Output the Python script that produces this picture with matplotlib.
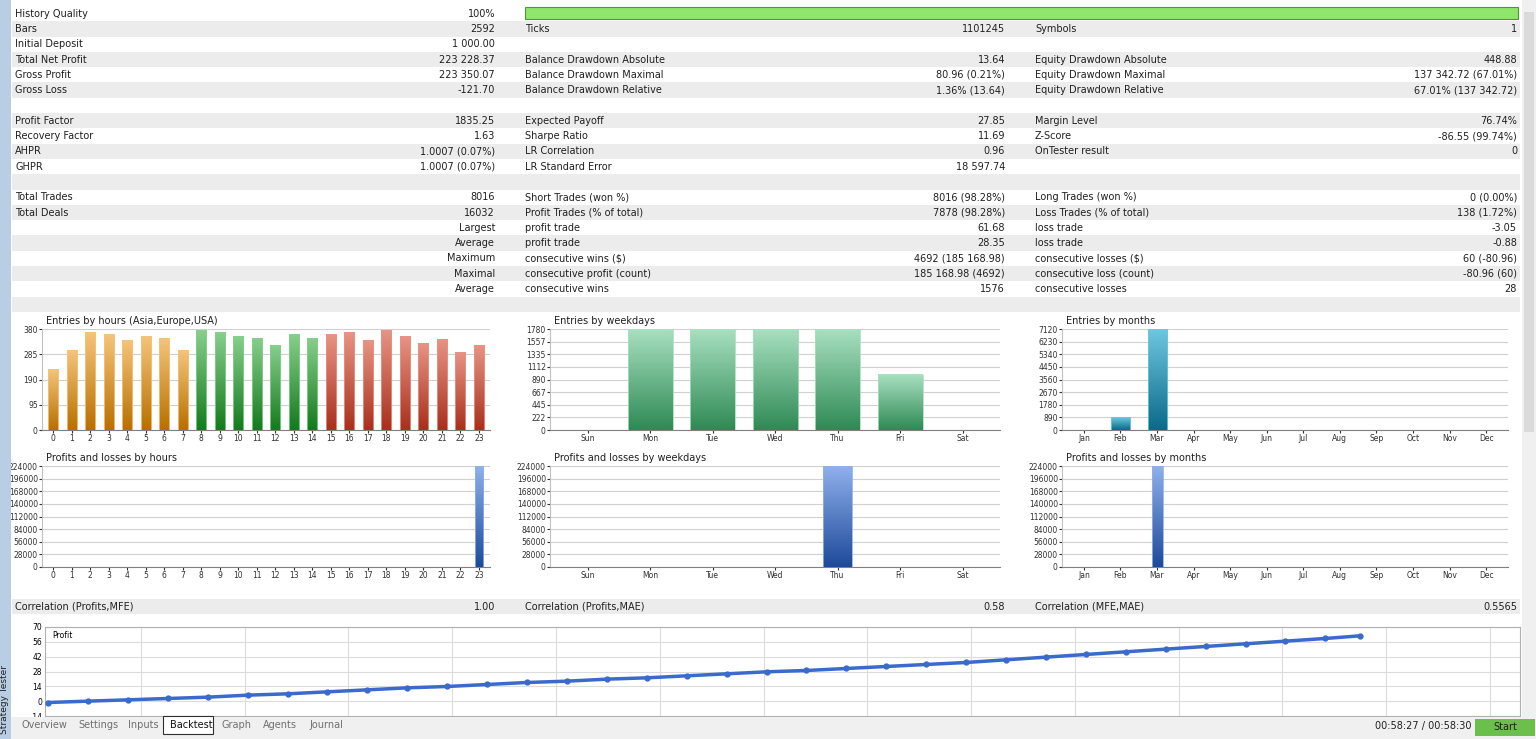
import matplotlib
matplotlib.use("Agg")
import matplotlib.pyplot as plt
from matplotlib.patches import Rectangle
from matplotlib.colors import LinearSegmentedColormap
import numpy as np

W, H = 1536, 739
rows = [
    ("History Quality", "100%", "", "", "", ""),
    ("Bars", "2592", "Ticks", "1101245", "Symbols", "1"),
    ("Initial Deposit", "1 000.00", "", "", "", ""),
    ("Total Net Profit", "223 228.37", "Balance Drawdown Absolute", "13.64", "Equity Drawdown Absolute", "448.88"),
    ("Gross Profit", "223 350.07", "Balance Drawdown Maximal", "80.96 (0.21%)", "Equity Drawdown Maximal", "137 342.72 (67.01%)"),
    ("Gross Loss", "-121.70", "Balance Drawdown Relative", "1.36% (13.64)", "Equity Drawdown Relative", "67.01% (137 342.72)"),
    ("", "", "", "", "", ""),
    ("Profit Factor", "1835.25", "Expected Payoff", "27.85", "Margin Level", "76.74%"),
    ("Recovery Factor", "1.63", "Sharpe Ratio", "11.69", "Z-Score", "-86.55 (99.74%)"),
    ("AHPR", "1.0007 (0.07%)", "LR Correlation", "0.96", "OnTester result", "0"),
    ("GHPR", "1.0007 (0.07%)", "LR Standard Error", "18 597.74", "", ""),
    ("", "", "", "", "", ""),
    ("Total Trades", "8016", "Short Trades (won %)", "8016 (98.28%)", "Long Trades (won %)", "0 (0.00%)"),
    ("Total Deals", "16032", "Profit Trades (% of total)", "7878 (98.28%)", "Loss Trades (% of total)", "138 (1.72%)"),
    ("", "Largest", "profit trade", "61.68", "loss trade", "-3.05"),
    ("", "Average", "profit trade", "28.35", "loss trade", "-0.88"),
    ("", "Maximum", "consecutive wins ($)", "4692 (185 168.98)", "consecutive losses ($)", "60 (-80.96)"),
    ("", "Maximal", "consecutive profit (count)", "185 168.98 (4692)", "consecutive loss (count)", "-80.96 (60)"),
    ("", "Average", "consecutive wins", "1576", "consecutive losses", "28"),
    ("", "", "", "", "", ""),
]
hours = [str(h) for h in range(24)]
entries_hours = [228, 298, 368, 358, 336, 352, 346, 298, 374, 368, 352, 346, 318, 358, 346, 358, 368, 336, 374, 352, 324, 340, 292, 318]
weekdays = ["Sun", "Mon", "Tue", "Wed", "Thu", "Fri", "Sat"]
entries_weekdays = [0, 1780, 1780, 1780, 1780, 976, 0]
months = ["Jan", "Feb", "Mar", "Apr", "May", "Jun", "Jul", "Aug", "Sep", "Oct", "Nov", "Dec"]
entries_months = [0, 896, 7120, 0, 0, 0, 0, 0, 0, 0, 0, 0]
pl_hours = [0]*23 + [223228]
pl_weekdays = [0, 0, 0, 0, 223228, 0, 0]
pl_months = [0, 0, 223228, 0, 0, 0, 0, 0, 0, 0, 0, 0]
corr = ("Correlation (Profits,MFE)", "1.00", "Correlation (Profits,MAE)", "0.58", "Correlation (MFE,MAE)", "0.5565")
scatter_x = [0, 40, 80, 120, 160, 200, 240, 280, 320, 360, 400, 440, 480, 520, 560, 600, 640, 680, 720, 760, 800, 840, 880, 920, 960, 1000, 1040, 1080, 1120, 1160, 1200, 1240, 1280, 1315]
scatter_y = [-1, 0, 1, 2, 3, 4.5, 5.5, 7, 8.5, 10, 11, 12.5, 14, 15, 16.5, 17.5, 19, 20.5, 22, 23, 24.5, 26, 27.5, 29, 31, 33, 35, 37, 39, 41, 43, 45, 47, 49]
scatter_y = [v * 61.7 / 49 for v in scatter_y]

fig = plt.figure(figsize=(W/100, H/100), dpi=100)
fig.patch.set_facecolor("white")
def rect(x, y, w, h, **kw):
    fig.patches.append(Rectangle((x/W, 1-(y+h)/H), w/W, h/H, transform=fig.transFigure, **kw))
def txt(x, y, s, ha="left", size=7, color="#202020", **kw):
    fig.text(x/W, 1-y/H, s, ha=ha, va="center", fontsize=size, color=color, **kw)

rect(0, 0, 11, H, facecolor="#b9cde4", edgecolor="none")
txt(5, 700, "Strategy Tester", ha="center", size=6.5, rotation=90)
rect(1522, 0, 14, 717, facecolor="#f0f0f0", edgecolor="none")
rect(1524, 12, 10, 420, facecolor="#dadada", edgecolor="none")

rh = 15.3
y0 = 6
for i, r in enumerate(rows):
    yt = y0 + i*rh
    if i % 2 == 1:
        rect(12, yt, 1508, rh, facecolor="#ececec", edgecolor="none")
    yc = yt + rh/2
    if r[0]: txt(15, yc, r[0])
    if r[1]: txt(495, yc, r[1], ha="right")
    if r[2]: txt(525, yc, r[2])
    if r[3]: txt(1005, yc, r[3], ha="right")
    if r[4]: txt(1035, yc, r[4])
    if r[5]: txt(1517, yc, r[5], ha="right")
rect(525, 7, 993, 12, facecolor="#8ee66a", edgecolor="#4a9a30", lw=0.8)

def barchart(x, y, w, h, cats, vals, colors, ylim, ticks, title, bw=0.55):
    ax = fig.add_axes([x/W, 1-(y+h)/H, w/W, h/H])
    pos = np.arange(len(cats))
    bars = ax.bar(pos, vals, width=bw, color="none", edgecolor=[c[0] for c in colors], linewidth=0.6, zorder=4)
    grad = np.linspace(0, 1, 100).reshape(-1, 1)
    for b, v, (light, dark) in zip(bars, vals, colors):
        if v <= 0:
            continue
        cm = LinearSegmentedColormap.from_list("g", [dark, light])
        ax.imshow(grad, cmap=cm, origin="lower", aspect="auto",
                  extent=[b.get_x(), b.get_x()+b.get_width(), 0, v], zorder=3)
    ax.set_xlim(-0.6, len(cats)-0.4)
    ax.set_ylim(0, ylim)
    ax.set_aspect("auto")
    ax.set_yticks(ticks)
    ax.set_yticklabels([str(t) for t in ticks])
    ax.set_xticks(pos)
    ax.set_xticklabels(cats)
    ax.tick_params(labelsize=5.5, length=2, pad=1, colors="#303030")
    ax.grid(axis="y", color="#d0d0d0", lw=0.8, zorder=0)
    for s in ["top", "right"]:
        ax.spines[s].set_visible(False)
    ax.spines["left"].set_color("#c0c0c0"); ax.spines["bottom"].set_color("#808080")
    fig.text((x+4)/W, 1-(y-8)/H, title, fontsize=7, va="center", color="#202020")
    return ax

org = ("#f5c47a", "#b87000"); grn = ("#86cf8c", "#157a1d"); red = ("#e89384", "#a8301c")
hcols = [org]*8 + [grn]*7 + [red]*9
barchart(42, 329, 448, 101, hours, entries_hours, hcols, 380, [0, 95, 190, 285, 380], "Entries by hours (Asia,Europe,USA)")
barchart(550, 329, 450, 101, weekdays, entries_weekdays, [("#a8e0c0", "#2f8a55")]*7, 1780, [0, 222, 445, 667, 890, 1112, 1335, 1557, 1780], "Entries by weekdays", bw=0.72)
barchart(1062, 329, 446, 101, months, entries_months, [("#6ec7e0", "#0a6a88")]*12, 7120, [0, 890, 1780, 2670, 3560, 4450, 5340, 6230, 7120], "Entries by months", bw=0.52)
pt = list(range(0, 224001, 28000))
blu = ("#8fb0ec", "#1e4a9a")
barchart(42, 466, 448, 101, hours, pl_hours, [blu]*24, 224000, pt, "Profits and losses by hours", bw=0.45)
barchart(550, 466, 450, 101, weekdays, pl_weekdays, [blu]*7, 224000, pt, "Profits and losses by weekdays", bw=0.46)
barchart(1062, 466, 446, 101, months, pl_months, [blu]*12, 224000, pt, "Profits and losses by months", bw=0.3)

rect(12, 599, 1508, 15, facecolor="#ececec", edgecolor="none")
yc = 606.5
txt(15, yc, corr[0]); txt(495, yc, corr[1], ha="right")
txt(525, yc, corr[2]); txt(1005, yc, corr[3], ha="right")
txt(1035, yc, corr[4]); txt(1517, yc, corr[5], ha="right")

ax = fig.add_axes([45/W, 1-716/H, 1475/W, 89/H])
ax.plot(scatter_x, scatter_y, color="#3a6acb", lw=2.5, marker="o", ms=3.5, zorder=3)
ax.set_xlim(-3, 1475)
ax.set_ylim(-14, 70)
ax.set_yticks([-14, 0, 14, 28, 42, 56, 70])
ax.set_xticks(np.arange(93, 1475, 104))
ax.set_xticklabels([])
ax.tick_params(labelsize=5.5, length=0, pad=2)
ax.grid(color="#dcdcdc", lw=0.8)
for s in ax.spines.values(): s.set_color("#b0b0b0")
ax.text(0.005, 0.9, "Profit", transform=ax.transAxes, fontsize=5.5, va="center")

rect(11, 717, 1525, 22, facecolor="#f0f0f0", edgecolor="none")
tabs = [("Overview", 22), ("Settings", 78), ("Inputs", 128), ("Backtest", 170), ("Graph", 222), ("Agents", 263), ("Journal", 309)]
for name, x in tabs:
    if name == "Backtest":
        rect(163, 716, 50, 18, facecolor="white", edgecolor="#303030", lw=0.8)
        txt(x, 725, name, color="#101010")
    else:
        txt(x, 725, name, color="#707070")
txt(1375, 726, "00:58:27 / 00:58:30")
rect(1475, 719, 60, 17, facecolor="#6ac04a", edgecolor="none")
txt(1505, 727, "Start", ha="center")

fig.savefig("out.png", dpi=100)
